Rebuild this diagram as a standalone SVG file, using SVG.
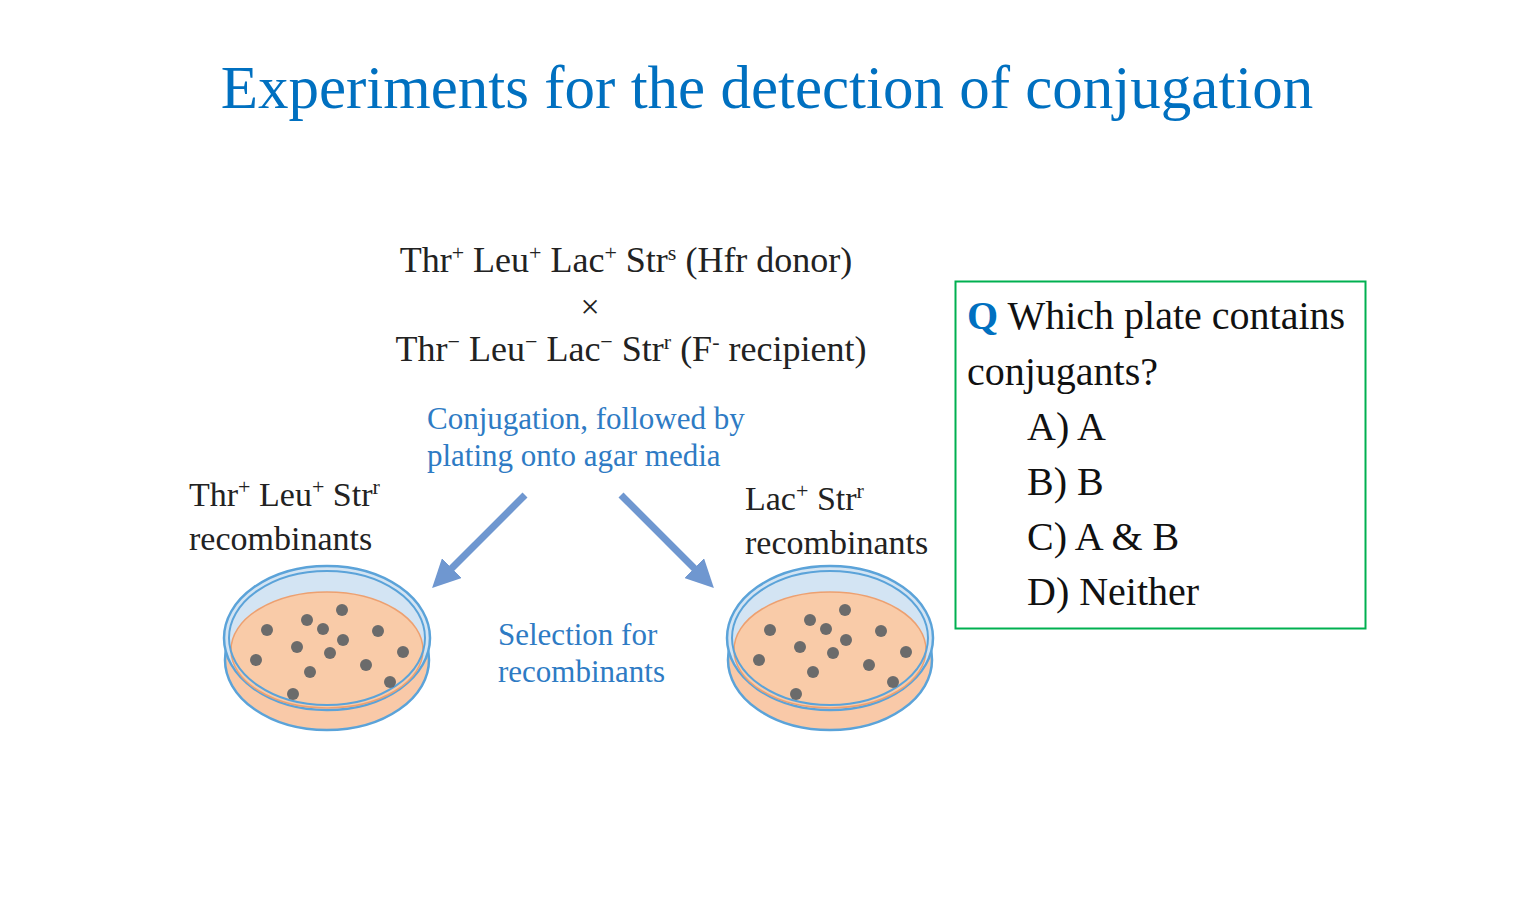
<svg xmlns="http://www.w3.org/2000/svg" width="1536" height="912" viewBox="0 0 1536 912">
<style>
text{font-family:"Liberation Serif","Times New Roman",serif}
.g{font-size:34px;fill:#222}
.c{font-size:36px}
.b{font-size:31px;fill:#2E7BC4}
.q{font-size:40px;fill:#111}
.sup{font-size:22px}
.dot{fill:#6b6b6b}
.dish{stroke:#5BA3D9;stroke-width:2.5}
</style>
<defs>
<marker id="ah" markerWidth="4" markerHeight="4" refX="2" refY="2" orient="auto" markerUnits="strokeWidth"><path d="M0,0 L4,2 L0,4 z" fill="#6F97D0"/></marker>
<g id="dishShape">
<ellipse class="dish" cx="0" cy="22" rx="102" ry="70" fill="#F9C9A8"/>
<ellipse cx="0" cy="0" rx="103" ry="72" fill="#D3E4F3" class="dish"/>
<ellipse cx="0" cy="12" rx="96" ry="58" fill="#F9CBA8" stroke="#EDA070" stroke-width="1.5"/>
<ellipse cx="0" cy="0" rx="98" ry="67" fill="none" stroke="#5BA3D9" stroke-width="2"/>
<circle class="dot" cx="15" cy="-28" r="6"/><circle class="dot" cx="-20" cy="-18" r="6"/>
<circle class="dot" cx="-60" cy="-8" r="6"/><circle class="dot" cx="-4" cy="-9" r="6"/>
<circle class="dot" cx="51" cy="-7" r="6"/><circle class="dot" cx="16" cy="2" r="6"/>
<circle class="dot" cx="-30" cy="9" r="6"/><circle class="dot" cx="3" cy="15" r="6"/>
<circle class="dot" cx="-71" cy="22" r="6"/><circle class="dot" cx="76" cy="14" r="6"/>
<circle class="dot" cx="39" cy="27" r="6"/><circle class="dot" cx="-17" cy="34" r="6"/>
<circle class="dot" cx="63" cy="44" r="6"/><circle class="dot" cx="-34" cy="56" r="6"/>
</g>
</defs>
<rect width="1536" height="912" fill="#fff"/>
<text x="767" y="108" text-anchor="middle" font-size="61" fill="#0070C0">Experiments for the detection of conjugation</text>
<g id="cross">
<text class="g c" x="626" y="272" text-anchor="middle">Thr<tspan class="sup" dy="-12">+</tspan><tspan dy="12"> Leu</tspan><tspan class="sup" dy="-12">+</tspan><tspan dy="12"> Lac</tspan><tspan class="sup" dy="-12">+</tspan><tspan dy="12"> Str</tspan><tspan class="sup" dy="-12">s</tspan><tspan dy="12"> (Hfr donor)</tspan></text>
<text class="g" x="590" y="318" text-anchor="middle">×</text>
<text class="g c" x="631" y="361" text-anchor="middle">Thr<tspan class="sup" dy="-12">−</tspan><tspan dy="12"> Leu</tspan><tspan class="sup" dy="-12">−</tspan><tspan dy="12"> Lac</tspan><tspan class="sup" dy="-12">−</tspan><tspan dy="12"> Str</tspan><tspan class="sup" dy="-12">r</tspan><tspan dy="12"> (F</tspan><tspan class="sup" dy="-12">-</tspan><tspan dy="12"> recipient)</tspan></text>
</g>
<g id="conj"><text class="b" x="427" y="429">Conjugation, followed by</text><text class="b" x="427" y="466">plating onto agar media</text></g>
<g id="sel"><text class="b" x="498" y="645">Selection for</text><text class="b" x="498" y="682">recombinants</text></g>
<g id="labelA"><text class="g" x="189" y="506">Thr<tspan class="sup" dy="-12">+</tspan><tspan dy="12"> Leu</tspan><tspan class="sup" dy="-12">+</tspan><tspan dy="12"> Str</tspan><tspan class="sup" dy="-12">r</tspan></text><text class="g" x="189" y="550">recombinants</text></g>
<g id="labelB"><text class="g" x="745" y="510">Lac<tspan class="sup" dy="-12">+</tspan><tspan dy="12"> Str</tspan><tspan class="sup" dy="-12">r</tspan></text><text class="g" x="745" y="554">recombinants</text></g>
<g id="connectors" stroke="#6F97D0" stroke-width="7" fill="none">
<line x1="525" y1="495" x2="442" y2="578" marker-end="url(#ah)"/>
<line x1="621" y1="495" x2="704" y2="578" marker-end="url(#ah)"/>
</g>
<g id="dishA"><use href="#dishShape" x="327" y="638"/></g>
<g id="dishB"><use href="#dishShape" x="830" y="638"/></g>
<g id="question">
<rect x="955.5" y="281.5" width="410" height="347" fill="none" stroke="#00B050" stroke-width="2"/>
<text class="q" x="967" y="329"><tspan fill="#0070C0" font-weight="bold">Q</tspan> Which plate contains</text>
<text class="q" x="967" y="385">conjugants?</text>
<text class="q" x="1027" y="440">A) A</text>
<text class="q" x="1027" y="495">B) B</text>
<text class="q" x="1027" y="550">C) A &amp; B</text>
<text class="q" x="1027" y="605">D) Neither</text>
</g>
</svg>
